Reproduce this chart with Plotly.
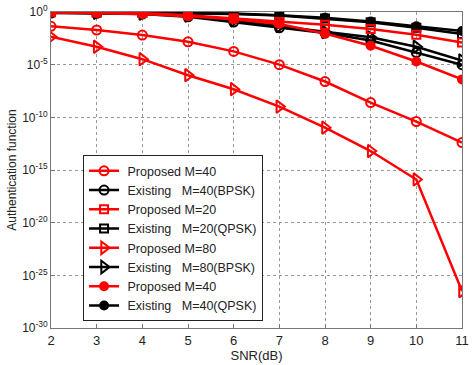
import plotly.graph_objects as go

snr = [2, 3, 4, 5, 6, 7, 8, 9, 10, 11]

# log10 values
prop_m40_circ = [-1.36, -1.71, -2.19, -2.83, -3.74, -5.0, -6.6, -8.6, -10.4, -12.4]
exist_m40_bpsk = [-0.1, -0.12, -0.2, -0.45, -0.95, -1.5, -2.0, -2.7, -3.85, -5.0]
prop_m20 = [0.0, -0.05, -0.1, -0.3, -0.6, -0.95, -1.2, -1.62, -2.16, -2.9]
exist_m20_qpsk = [-0.03, -0.05, -0.07, -0.12, -0.18, -0.33, -0.62, -0.98, -1.5, -2.1]
prop_m80 = [-2.35, -3.3, -4.48, -6.0, -7.33, -8.98, -10.98, -13.2, -15.9, -26.5]
exist_m80_bpsk = [-0.05, -0.08, -0.15, -0.35, -0.8, -1.35, -1.9, -2.4, -3.3, -4.6]
prop_m40_dot = [-0.05, -0.1, -0.2, -0.4, -0.7, -1.14, -2.05, -3.2, -4.7, -6.4]
exist_m40_qpsk = [-0.02, -0.04, -0.06, -0.1, -0.15, -0.3, -0.55, -0.9, -1.35, -1.8]

names = ["Proposed M=40", "Existing\u00a0\u00a0\u00a0M=40(BPSK)", "Proposed M=20",
         "Existing\u00a0\u00a0\u00a0M=20(QPSK)", "Proposed M=80", "Existing\u00a0\u00a0\u00a0M=80(BPSK)",
         "Proposed M=40", "Existing\u00a0\u00a0\u00a0M=40(QPSK)"]
series = [prop_m40_circ, exist_m40_bpsk, prop_m20, exist_m20_qpsk,
          prop_m80, exist_m80_bpsk, prop_m40_dot, exist_m40_qpsk]
colors = ["#ff0000", "#000000"] * 4
symbols = ["circle-open", "circle-open", "square-open", "square-open",
           "triangle-right-open", "triangle-right-open", "circle", "circle"]
sizes = [9, 9, 8, 8, 11, 11, 8, 8]

fig = go.Figure()
order = [1, 3, 5, 7, 0, 2, 4, 6]
for i in order:
    fig.add_trace(go.Scatter(
        x=snr, y=[10 ** v for v in series[i]], name="\u00a0" + names[i], mode="lines+markers",
        line=dict(color=colors[i], width=2.5),
        marker=dict(symbol=symbols[i], size=sizes[i], color=colors[i],
                    line=dict(color=colors[i], width=2)),
        legendrank=i + 1,
    ))

ytickvals = [1e0, 1e-5, 1e-10, 1e-15, 1e-20, 1e-25, 1e-30]
yticktext = ["10<sup>0</sup>", "10<sup>-5</sup>", "10<sup>-10</sup>", "10<sup>-15</sup>",
             "10<sup>-20</sup>", "10<sup>-25</sup>", "10<sup>-30</sup>"]

fig.update_layout(
    width=474, height=365,
    margin=dict(l=51, r=12, t=12, b=37),
    paper_bgcolor="white", plot_bgcolor="white",
    font=dict(family="Liberation Sans, Arial, sans-serif", size=13, color="#222"),
    legend=dict(x=0.078, y=0.547, xanchor="left", yanchor="top",
                bgcolor="white", bordercolor="#222", borderwidth=1,
                font=dict(size=12.5), tracegroupgap=0, itemwidth=30),
    showlegend=True,
)
fig.update_xaxes(range=[2, 11], dtick=1, tickvals=snr, showgrid=True, automargin=False,
                 gridcolor="#999", griddash="dot", gridwidth=1,
                 showline=True, linecolor="#777", linewidth=1, mirror=True,
                 ticks="inside", ticklen=4, tickcolor="#777",
                 title=dict(text="SNR(dB)", standoff=2, font=dict(size=13)),
                 zeroline=False, tickfont=dict(size=13))
fig.update_yaxes(type="log", range=[-30, 0], tickvals=ytickvals, ticktext=yticktext,
                 automargin=False,
                 showgrid=True, gridcolor="#999", griddash="dot", gridwidth=1,
                 showline=True, linecolor="#777", linewidth=1, mirror=True,
                 ticks="inside", ticklen=4, tickcolor="#777",
                 title=dict(text="Authentication function", standoff=2, font=dict(size=12)),
                 zeroline=False, tickfont=dict(size=12))

fig.write_html("out.html", config={"displayModeBar": False},
               post_script="document.body.style.margin='0';document.body.style.overflow='hidden';")
